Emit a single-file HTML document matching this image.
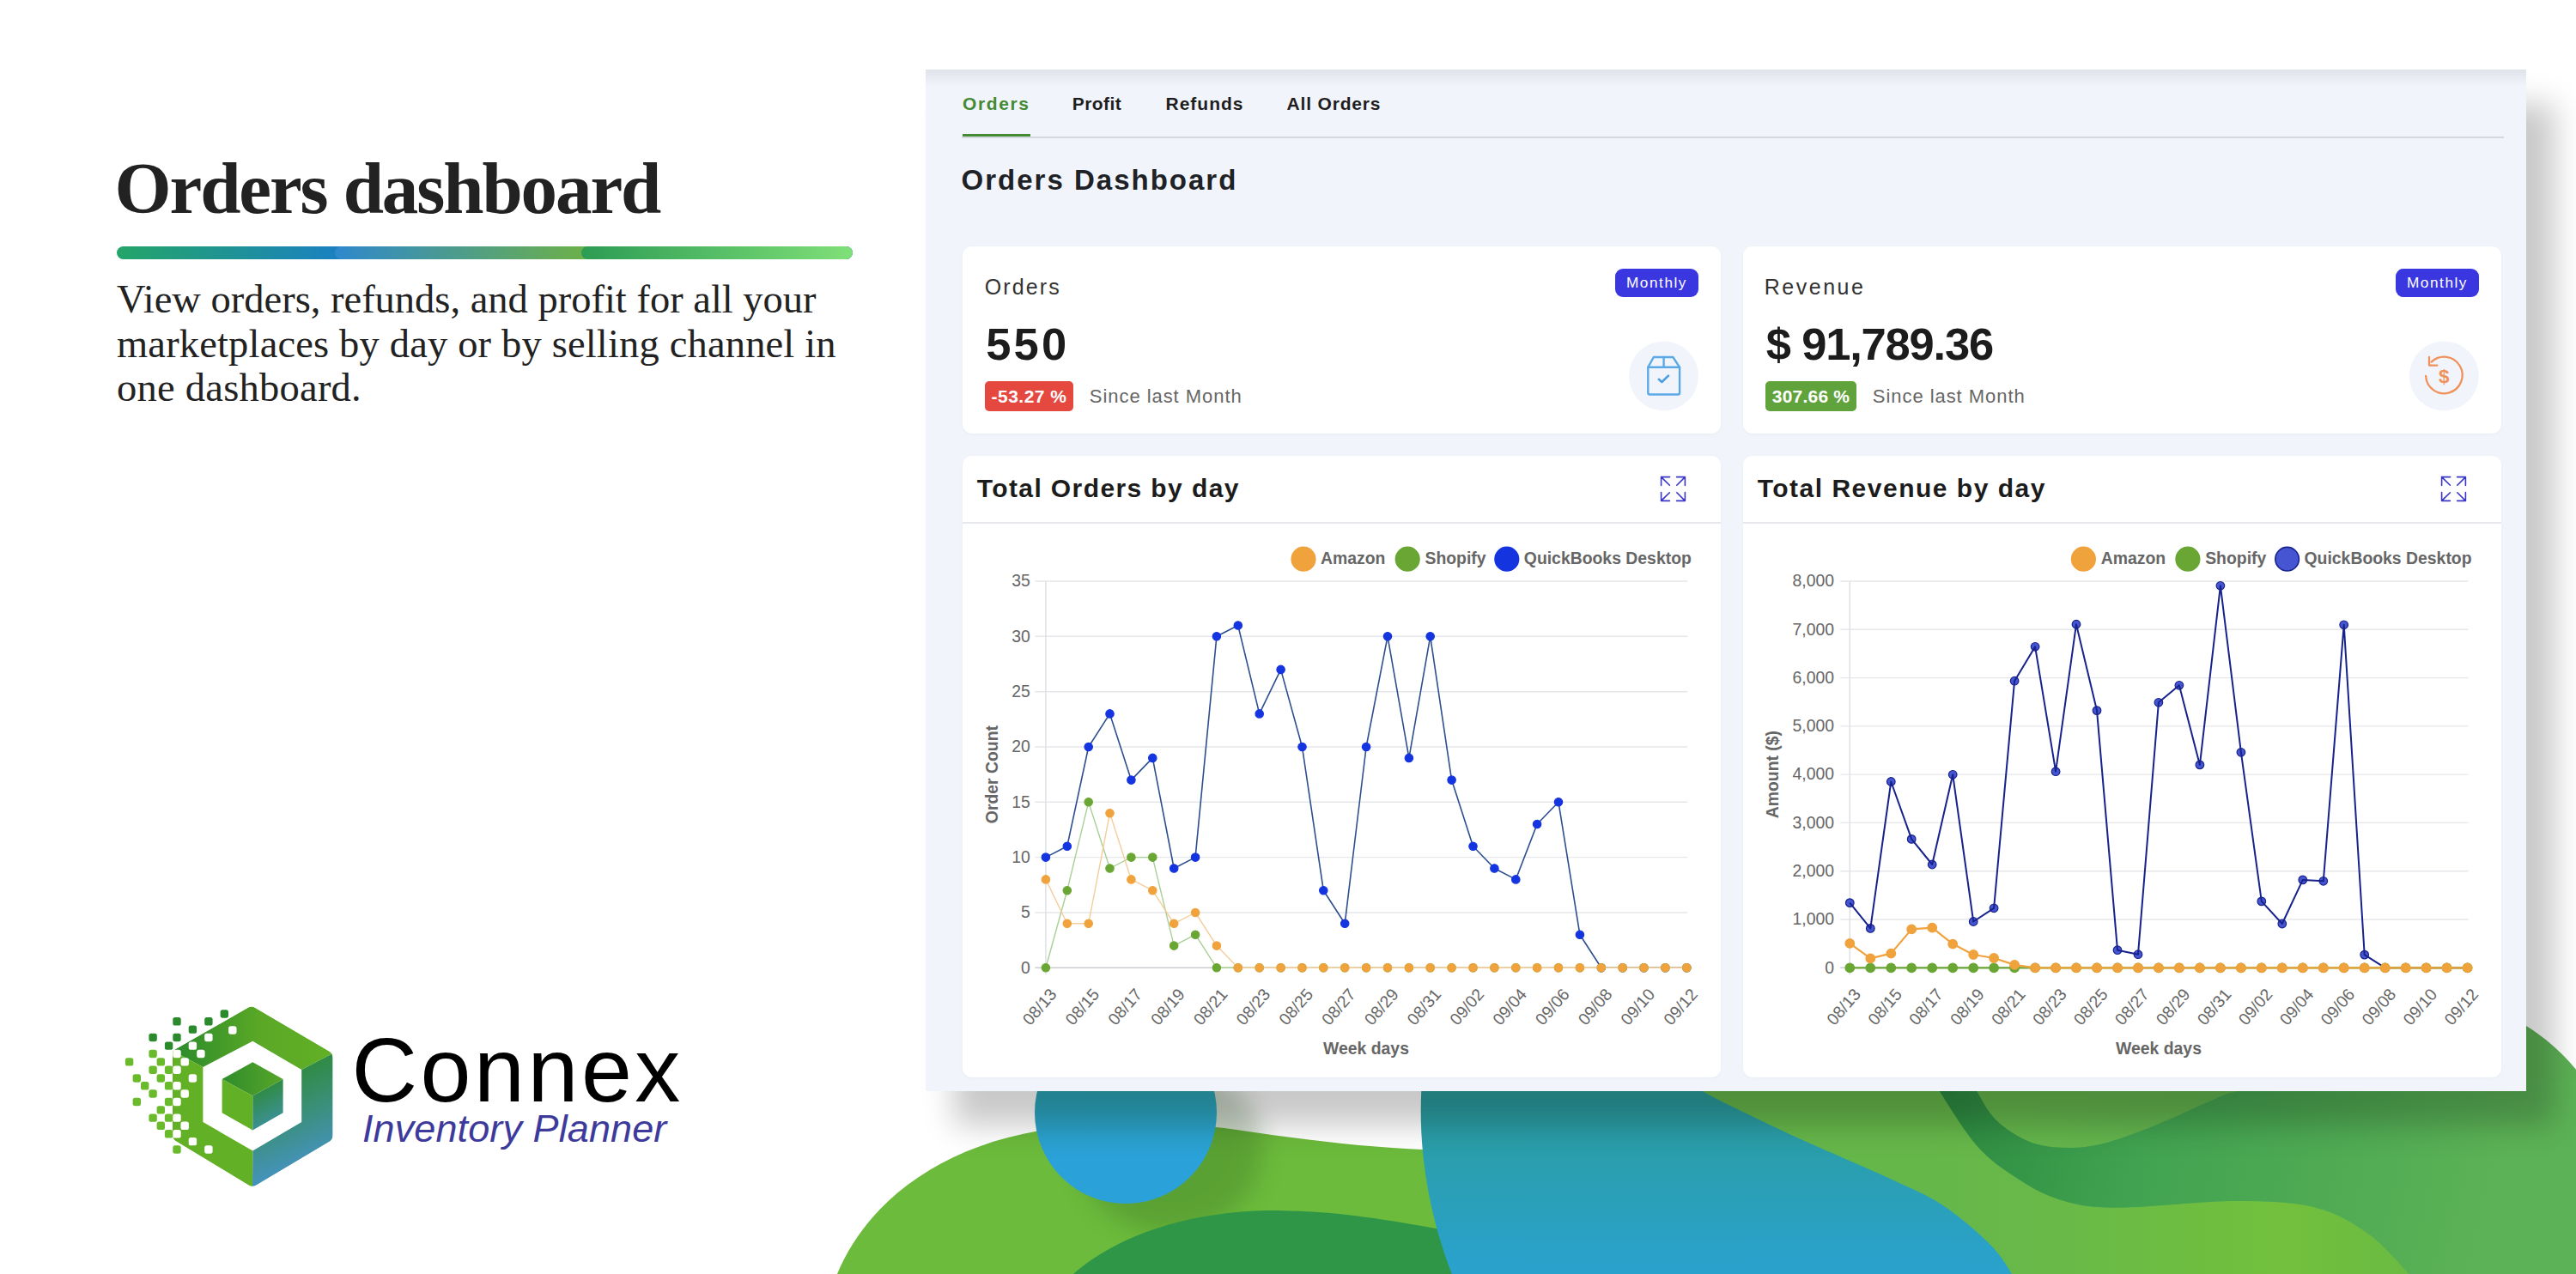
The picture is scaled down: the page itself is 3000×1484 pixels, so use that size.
<!DOCTYPE html>
<html lang="en"><head><meta charset="utf-8"><title>Orders dashboard</title>
<style>
html,body{margin:0;padding:0;background:#fff;}
body{width:3000px;height:1484px;position:relative;overflow:hidden;font-family:"Liberation Sans",sans-serif;}
.abs{position:absolute;white-space:nowrap;line-height:1;}
#bg{position:absolute;left:0;top:0;width:3000px;height:1484px;}
#panel{position:absolute;left:1078px;top:81px;width:1863.5px;height:1190px;background:#f1f5fb;box-shadow:33px 40px 34px rgba(0,0,0,0.215);}
#panel:before{content:"";position:absolute;left:0;top:0;right:0;height:19px;background:linear-gradient(#dfe3e9,#f1f5fb);}
.card{position:absolute;background:#fff;border-radius:11px;box-shadow:0 1px 3px rgba(60,80,120,0.06);}
.pp{font-family:"Liberation Sans",sans-serif;}
.serif{font-family:"Liberation Serif",serif;}
.badge{position:absolute;border-radius:5px;color:#fff;font-weight:bold;font-size:21px;text-align:center;white-space:nowrap;}
.mon{position:absolute;border-radius:9px;background:#3a36e0;color:#fff;font-size:17.2px;letter-spacing:1.55px;text-align:center;width:97px;height:33px;line-height:33px;}
svg text{font-family:"Liberation Sans",sans-serif;}
</style></head><body>
<svg id="bg" viewBox="0 0 3000 1484">

<defs>
<linearGradient id="gTeal" x1="0" y1="0" x2="0" y2="1"><stop offset="0" stop-color="#2a9c98"/><stop offset="1" stop-color="#2aa2d0"/></linearGradient>
<linearGradient id="gCirc" gradientUnits="userSpaceOnUse" x1="0" y1="1270" x2="0" y2="1345"><stop offset="0" stop-color="#2ca6b4"/><stop offset="1" stop-color="#2aa1d8"/></linearGradient>
<linearGradient id="gRight" gradientUnits="userSpaceOnUse" x1="2100" y1="0" x2="3000" y2="0"><stop offset="0" stop-color="#68b848"/><stop offset="1" stop-color="#5cb055"/></linearGradient>
<linearGradient id="gBand" gradientUnits="userSpaceOnUse" x1="2260" y1="1270" x2="2900" y2="1420"><stop offset="0" stop-color="#2c8a40"/><stop offset="0.35" stop-color="#40a250"/><stop offset="1" stop-color="#5cb256"/></linearGradient>
<linearGradient id="gBand2" gradientUnits="userSpaceOnUse" x1="2300" y1="1280" x2="2700" y2="1300"><stop offset="0" stop-color="#4a9a40"/><stop offset="1" stop-color="#5fb350"/></linearGradient>
<linearGradient id="gLime" gradientUnits="userSpaceOnUse" x1="2250" y1="0" x2="2820" y2="0"><stop offset="0" stop-color="#66b74a"/><stop offset="0.25" stop-color="#68b948"/><stop offset="0.72" stop-color="#72c03c"/><stop offset="1" stop-color="#6aba44"/></linearGradient>
<radialGradient id="gCircSh" gradientUnits="userSpaceOnUse" cx="1345" cy="1330" r="150"><stop offset="0.6" stop-color="#000" stop-opacity="0.22"/><stop offset="1" stop-color="#000" stop-opacity="0"/></radialGradient>
<filter id="blur12" x="-20%" y="-20%" width="140%" height="140%"><feGaussianBlur stdDeviation="14"/></filter>
</defs>
<!-- light green big blob (left) -->
<path d="M975,1484 C1010,1400 1100,1325 1250,1312 C1330,1306 1400,1310 1440,1316 C1520,1328 1600,1338 1680,1340 L1720,1484 Z" fill="#6cbb3c"/>
<!-- circle shadow -->
<ellipse cx="1362" cy="1338" rx="108" ry="98" fill="#2c5a1c" opacity="0.26" filter="url(#blur12)"/>
<!-- dark green lower blob -->
<path d="M1250,1484 C1300,1440 1380,1412 1476,1410 C1560,1410 1620,1422 1700,1436 L1720,1484 Z" fill="#2f9648"/>
<!-- right base green -->
<path d="M1960,1260 L2930,1260 L2930,1189 C2950,1197 2981,1222 3001,1247 L3000,1484 L2300,1484 Z" fill="url(#gRight)"/>
<!-- lime lower area (under band) -->
<path d="M2252.0,1258.0 C2253.2,1260.3 2250.6,1258.8 2259.0,1271.6 C2267.4,1284.4 2287.5,1318.2 2302.5,1335.0 C2317.5,1351.8 2332.9,1362.1 2349.0,1372.5 C2365.1,1382.9 2379.6,1391.7 2398.8,1397.4 C2418.0,1403.1 2429.8,1406.4 2464.0,1406.7 C2498.2,1407.0 2564.9,1399.0 2603.7,1399.0 C2642.5,1399.0 2671.1,1400.2 2697.0,1406.7 C2722.9,1413.2 2740.9,1424.9 2759.0,1437.8 C2777.1,1450.7 2796.8,1475.0 2805.6,1484.0 C2814.4,1493.0 2810.9,1490.7 2812.0,1492.0 L1900,1492 L1900,1258 Z" fill="url(#gLime)"/>
<!-- dark band -->
<path d="M2252.0,1258.0 C2253.2,1260.3 2250.6,1258.8 2259.0,1271.6 C2267.4,1284.4 2287.5,1318.2 2302.5,1335.0 C2317.5,1351.8 2332.9,1362.1 2349.0,1372.5 C2365.1,1382.9 2379.6,1391.7 2398.8,1397.4 C2418.0,1403.1 2429.8,1406.4 2464.0,1406.7 C2498.2,1407.0 2564.9,1399.0 2603.7,1399.0 C2642.5,1399.0 2671.1,1400.2 2697.0,1406.7 C2722.9,1413.2 2740.9,1424.9 2759.0,1437.8 C2777.1,1450.7 2796.8,1475.0 2805.6,1484.0 C2814.4,1493.0 2810.9,1490.7 2812.0,1492.0 L3000,1492 L3000,1258 L2625.0,1258.0 C2621.4,1260.3 2609.9,1268.5 2603.7,1271.6 C2597.5,1274.6 2603.5,1269.8 2588.0,1276.3 C2572.5,1282.8 2533.9,1301.1 2510.6,1310.4 C2487.3,1319.7 2466.5,1327.8 2448.4,1332.2 C2430.3,1336.6 2416.4,1337.3 2401.9,1336.8 C2387.4,1336.3 2374.5,1334.5 2361.5,1329.0 C2348.5,1323.5 2333.8,1313.6 2324.0,1304.0 C2314.2,1294.4 2307.2,1279.3 2302.5,1271.6 C2297.8,1263.9 2297.1,1260.3 2296.0,1258.0 Z" fill="url(#gBand)"/>
<!-- teal big shape -->
<path d="M1656,1258 C1650,1340 1665,1420 1694,1492 L2346.0,1492.0 C2345.5,1490.7 2347.7,1491.0 2343.0,1484.0 C2338.3,1477.0 2331.5,1463.4 2318.0,1450.0 C2304.5,1436.6 2281.7,1416.5 2262.0,1403.6 C2242.3,1390.7 2226.2,1384.7 2200.0,1372.5 C2173.8,1360.3 2131.7,1342.7 2105.0,1330.6 C2078.3,1318.5 2060.7,1310.1 2040.0,1300.0 C2019.3,1289.9 1991.8,1277.0 1981.0,1270.0 C1970.2,1263.0 1976.0,1260.0 1975.0,1258.0 Z" fill="url(#gTeal)"/>
<!-- blue circle -->
<circle cx="1311" cy="1296" r="106" fill="url(#gCirc)"/>


<defs>
<linearGradient id="lgTop" gradientUnits="userSpaceOnUse" x1="201" y1="1224" x2="387" y2="1224"><stop offset="0" stop-color="#2a8a2c"/><stop offset="0.55" stop-color="#5aa826"/><stop offset="1" stop-color="#62b025"/></linearGradient>
<linearGradient id="lgRight" gradientUnits="userSpaceOnUse" x1="330" y1="1240" x2="380" y2="1350"><stop offset="0" stop-color="#2d8a36"/><stop offset="0.5" stop-color="#3a8f78"/><stop offset="1" stop-color="#4693c4"/></linearGradient>
<linearGradient id="lgCT" gradientUnits="userSpaceOnUse" x1="258" y1="1257" x2="330" y2="1257"><stop offset="0" stop-color="#2e8c2c"/><stop offset="1" stop-color="#58a628"/></linearGradient>
<linearGradient id="lgCR" gradientUnits="userSpaceOnUse" x1="300" y1="1265" x2="325" y2="1312"><stop offset="0" stop-color="#2d8a36"/><stop offset="1" stop-color="#3f92a8"/></linearGradient>
<clipPath id="hexclip"><path d="M288.2,1174.1 Q293.0,1171.4 297.7,1174.2 L382.9,1224.3 Q387.6,1227.1 387.6,1232.6 L387.6,1321.9 Q387.6,1327.4 382.9,1330.2 L298.7,1380.4 Q294.0,1383.2 289.3,1380.4 L205.3,1329.6 Q201.0,1327.0 201.0,1322.0 L201.0,1224.0 Q201.0,1224.0 201.0,1224.0 Z"/></clipPath>
</defs>
<g clip-path="url(#hexclip)">
<polygon points="201.0,1224.0 293.0,1171.4 387.6,1227.1 351.2,1246.0 294.3,1212.8 236.4,1243.0" fill="url(#lgTop)" />
<polygon points="387.6,1227.1 387.6,1327.4 294.0,1383.2 294.3,1340.4 351.2,1307.0 351.2,1246.0" fill="url(#lgRight)" />
<polygon points="201.0,1224.0 236.4,1243.0 236.4,1307.0 294.3,1340.4 294.0,1383.2 201.0,1327.0" fill="#62b025" />
</g>
<polygon points="294.3,1237.3 329.6,1257.0 294.3,1276.6 258.6,1257.0" fill="url(#lgCT)" />
<polygon points="258.6,1257.0 294.3,1276.6 294.3,1316.4 258.6,1296.2" fill="#62b025" />
<polygon points="329.6,1257.0 329.6,1296.2 294.3,1316.4 294.3,1276.6" fill="url(#lgCR)" />
<g fill="#2a8a2c"><rect x="256.6" y="1176.3" width="9.4" height="9.4" rx="2.6"/><rect x="201.3" y="1185.1" width="9.4" height="9.4" rx="2.6"/><rect x="238.2" y="1185.1" width="9.4" height="9.4" rx="2.6"/><rect x="219.7" y="1194.4" width="9.4" height="9.4" rx="2.6"/><rect x="173.4" y="1203.8" width="9.4" height="9.4" rx="2.6"/><rect x="201.3" y="1203.8" width="9.4" height="9.4" rx="2.6"/><rect x="191.9" y="1213.4" width="9.4" height="9.4" rx="2.6"/></g>
<g fill="#6abb2c"><rect x="145.9" y="1232.2" width="9.4" height="9.4" rx="2.6"/><rect x="173.4" y="1222.8" width="9.4" height="9.4" rx="2.6"/><rect x="182.6" y="1232.2" width="9.4" height="9.4" rx="2.6"/><rect x="173.4" y="1241.5" width="9.4" height="9.4" rx="2.6"/><rect x="191.9" y="1241.5" width="9.4" height="9.4" rx="2.6"/><rect x="154.6" y="1251.3" width="9.4" height="9.4" rx="2.6"/><rect x="182.6" y="1251.3" width="9.4" height="9.4" rx="2.6"/><rect x="164.0" y="1260.1" width="9.4" height="9.4" rx="2.6"/><rect x="191.9" y="1260.1" width="9.4" height="9.4" rx="2.6"/><rect x="173.4" y="1269.3" width="9.4" height="9.4" rx="2.6"/><rect x="154.6" y="1278.8" width="9.4" height="9.4" rx="2.6"/><rect x="191.9" y="1278.8" width="9.4" height="9.4" rx="2.6"/><rect x="182.6" y="1288.2" width="9.4" height="9.4" rx="2.6"/><rect x="173.4" y="1297.4" width="9.4" height="9.4" rx="2.6"/><rect x="191.9" y="1297.4" width="9.4" height="9.4" rx="2.6"/><rect x="182.6" y="1306.6" width="9.4" height="9.4" rx="2.6"/><rect x="191.9" y="1316.1" width="9.4" height="9.4" rx="2.6"/><rect x="201.3" y="1334.3" width="9.4" height="9.4" rx="2.6"/></g>
<g fill="#ffffff"><rect x="266.1" y="1195.3" width="9.4" height="9.4" rx="2.6"/><rect x="238.2" y="1203.8" width="9.4" height="9.4" rx="2.6"/><rect x="219.7" y="1213.4" width="9.4" height="9.4" rx="2.6"/><rect x="229.2" y="1222.8" width="9.4" height="9.4" rx="2.6"/><rect x="201.3" y="1222.8" width="9.4" height="9.4" rx="2.6"/><rect x="210.5" y="1232.2" width="9.4" height="9.4" rx="2.6"/><rect x="201.3" y="1241.5" width="9.4" height="9.4" rx="2.6"/><rect x="219.7" y="1251.3" width="9.4" height="9.4" rx="2.6"/><rect x="201.3" y="1260.1" width="9.4" height="9.4" rx="2.6"/><rect x="210.5" y="1269.3" width="9.4" height="9.4" rx="2.6"/><rect x="201.3" y="1278.8" width="9.4" height="9.4" rx="2.6"/><rect x="201.3" y="1297.4" width="9.4" height="9.4" rx="2.6"/><rect x="210.5" y="1306.6" width="9.4" height="9.4" rx="2.6"/><rect x="201.3" y="1316.1" width="9.4" height="9.4" rx="2.6"/><rect x="219.7" y="1324.9" width="9.4" height="9.4" rx="2.6"/><rect x="238.2" y="1334.3" width="9.4" height="9.4" rx="2.6"/></g>

</svg>

<!-- left column -->
<div class="abs serif" id="title" style="left:133.5px;top:163.5px;font-size:85px;font-weight:bold;color:#222;letter-spacing:-2.1px;line-height:110px;">Orders dashboard</div>
<div id="bar" style="position:absolute;left:136px;top:287px;width:857px;height:15px;border-radius:8px;background:linear-gradient(90deg,#24a568 0,#1a80c2 262px);overflow:hidden;">
  <div style="position:absolute;left:254px;top:0;width:603px;height:15px;border-radius:8px;background:linear-gradient(90deg,#2e88cc,#6cb04a 48%,#6cb04a);"></div>
  <div style="position:absolute;left:541px;top:0;width:316px;height:15px;border-radius:8px;background:linear-gradient(90deg,#2c9c54,#80e078);"></div>
</div>
<div class="abs serif" id="para" style="left:136px;top:323px;font-size:46.5px;color:#222;line-height:51.5px;white-space:normal;width:900px;">View orders, refunds, and profit for all your<br><span style="letter-spacing:0.17px">marketplaces by day or by selling channel in</span><br><span style="letter-spacing:0.25px">one dashboard.</span></div>
<div class="abs" id="connex" style="left:409.5px;top:1189px;font-size:106px;letter-spacing:3.5px;color:#000;line-height:115px;">Connex</div>
<div class="abs" id="invp" style="left:422px;top:1291px;font-size:45px;font-style:italic;letter-spacing:0.1px;color:#3d3a9c;line-height:48px;">Inventory Planner</div>

<!-- dashboard panel -->
<div id="panel"></div>
<div class="abs pp" id="tab1" style="left:1121px;top:107.65px;font-size:21px;font-weight:bold;color:#438a33;letter-spacing:1.6px;line-height:26px;">Orders</div>
<div class="abs pp" id="tab2" style="left:1248.8px;top:107.65px;font-size:21px;font-weight:bold;color:#1e1e1e;letter-spacing:0.42px;line-height:26px;">Profit</div>
<div class="abs pp" id="tab3" style="left:1357.5px;top:107.65px;font-size:21px;font-weight:bold;color:#1e1e1e;letter-spacing:1px;line-height:26px;">Refunds</div>
<div class="abs pp" id="tab4" style="left:1498.6px;top:107.65px;font-size:21px;font-weight:bold;color:#1e1e1e;letter-spacing:0.82px;line-height:26px;">All Orders</div>
<div style="position:absolute;left:1120px;top:159px;width:1796px;height:2px;background:#d3d9df;"></div>
<div style="position:absolute;left:1121px;top:155.7px;width:79px;height:3.3px;background:#448c33;"></div>
<div class="abs pp" id="h1" style="left:1119.6px;top:189.6px;font-size:33px;font-weight:bold;color:#1e2126;letter-spacing:2px;line-height:40px;">Orders Dashboard</div>

<!-- stat cards -->
<div class="card" style="left:1121px;top:287px;width:883px;height:218px;"></div>
<div class="card" style="left:2030px;top:287px;width:883px;height:218px;"></div>
<div class="abs pp" id="lab1" style="left:1146.8px;top:318.5px;font-size:25px;color:#333;letter-spacing:2.1px;line-height:30px;">Orders</div>
<div class="abs pp" id="lab2" style="left:2054.8px;top:318.5px;font-size:25px;color:#333;letter-spacing:2.5px;line-height:30px;">Revenue</div>
<div class="mon" style="left:1881px;top:313px;">Monthly</div>
<div class="mon" style="left:2790px;top:313px;">Monthly</div>
<div class="abs pp" id="v1" style="left:1148.3px;top:373px;font-size:52.5px;font-weight:bold;color:#1c1c1c;letter-spacing:3.1px;line-height:56px;">550</div>
<div class="abs pp" id="v2" style="left:2056.8px;top:373px;font-size:52.5px;font-weight:bold;color:#1c1c1c;letter-spacing:-1.2px;line-height:56px;">$ 91,789.36</div>
<div class="badge" style="left:1147px;top:444px;width:103px;height:35px;line-height:36px;background:#e5483f;letter-spacing:0.5px;">-53.27 %</div>
<div class="badge" style="left:2056px;top:444px;width:106px;height:35px;line-height:36px;background:#60a33c;letter-spacing:0.2px;">307.66 %</div>
<div class="abs pp" id="s1" style="left:1268.8px;top:448.7px;font-size:22px;color:#666;letter-spacing:0.95px;line-height:26px;">Since last Month</div>
<div class="abs pp" id="s2" style="left:2180.8px;top:448.7px;font-size:22px;color:#666;letter-spacing:0.95px;line-height:26px;">Since last Month</div>

<!-- chart cards -->
<div class="card" style="left:1121px;top:531px;width:883px;height:724px;"></div>
<div class="card" style="left:2030px;top:531px;width:883px;height:724px;"></div>
<div style="position:absolute;left:1121px;top:608px;width:883px;height:1.5px;background:#e6e8ec;"></div>
<div style="position:absolute;left:2030px;top:608px;width:883px;height:1.5px;background:#e6e8ec;"></div>
<div class="abs pp" id="t1" style="left:1137.7px;top:551.3px;font-size:30px;font-weight:bold;color:#1c1c1c;letter-spacing:1.4px;line-height:36px;">Total Orders by day</div>
<div class="abs pp" id="t2" style="left:2046.7px;top:551.3px;font-size:30px;font-weight:bold;color:#1c1c1c;letter-spacing:1.5px;line-height:36px;">Total Revenue by day</div>

<svg id="fg" style="position:absolute;left:0;top:0;width:3000px;height:1484px;" viewBox="0 0 3000 1484">
<!-- icons -->
<circle cx="1937.5" cy="437.9" r="40.5" fill="#f1f5fb"/>
<g fill="none" stroke="#5aa9e6" stroke-width="2.4" stroke-linejoin="round" stroke-linecap="round">
<path d="M1919.3,427.8 L1925.8,416 L1948.4,416 L1956.1,427.8 L1956.1,457.5 Q1956.1,459.5 1954.1,459.5 L1921.3,459.5 Q1919.3,459.5 1919.3,457.5 Z"/>
<path d="M1919.3,427.8 L1956.1,427.8 M1937.6,416 L1937.6,427.8"/>
<path d="M1931.8,441.8 L1935.4,445 L1943,437.6" stroke="#4c9fe0" stroke-width="2.6"/>
</g>
<circle cx="2846.3" cy="437.9" r="40.5" fill="#f1f5fb"/>
<g fill="none" stroke="#f0915a" stroke-width="2.3" stroke-linecap="round" stroke-linejoin="round">
<path d="M2831.6,421.6 A21.3,21.3 0 1 1 2825.1,438"/>
<path d="M2829,416 L2829,425.6 L2838.4,425.6"/>
</g>
<text x="2846.3" y="445.8" text-anchor="middle" font-size="22.5" font-weight="bold" fill="#f0915a">$</text>
<!-- expand icons -->
<g id="exp" fill="none" stroke="#3a36c8" stroke-width="1.6" stroke-linecap="round" stroke-linejoin="round">
<path d="M1934.6,565.4 L1934.6,555.6 L1944.6,555.6 M1934.6,555.6 L1944.4,565.2 M1952.6,555.6 L1962.4,555.6 L1962.4,565.4 M1962.4,555.6 L1952.8,565.2 M1934.6,573.6 L1934.6,583.4 L1944.4,583.4 M1934.6,583.4 L1944.4,573.8 M1952.6,583.4 L1962.4,583.4 L1962.4,573.6 M1962.4,583.4 L1952.8,573.8"/>
<path transform="translate(909,0)" d="M1934.6,565.4 L1934.6,555.6 L1944.6,555.6 M1934.6,555.6 L1944.4,565.2 M1952.6,555.6 L1962.4,555.6 L1962.4,565.4 M1962.4,555.6 L1952.8,565.2 M1934.6,573.6 L1934.6,583.4 L1944.4,583.4 M1934.6,583.4 L1944.4,573.8 M1952.6,583.4 L1962.4,583.4 L1962.4,573.6 M1962.4,583.4 L1952.8,573.8"/>
</g>
<!-- orders chart -->
<line x1="1205.4" y1="1127.3" x2="1965.3" y2="1127.3" stroke="#cbcdd1" stroke-width="1.4"/>
<text x="1199.9" y="1133.6" text-anchor="end" font-size="19.4" fill="#666">0</text>
<line x1="1205.4" y1="1063.0" x2="1965.3" y2="1063.0" stroke="#e5e7ea" stroke-width="1.4"/>
<text x="1199.9" y="1069.3" text-anchor="end" font-size="19.4" fill="#666">5</text>
<line x1="1205.4" y1="998.6" x2="1965.3" y2="998.6" stroke="#e5e7ea" stroke-width="1.4"/>
<text x="1199.9" y="1004.9" text-anchor="end" font-size="19.4" fill="#666">10</text>
<line x1="1205.4" y1="934.3" x2="1965.3" y2="934.3" stroke="#e5e7ea" stroke-width="1.4"/>
<text x="1199.9" y="940.6" text-anchor="end" font-size="19.4" fill="#666">15</text>
<line x1="1205.4" y1="870.0" x2="1965.3" y2="870.0" stroke="#e5e7ea" stroke-width="1.4"/>
<text x="1199.9" y="876.3" text-anchor="end" font-size="19.4" fill="#666">20</text>
<line x1="1205.4" y1="805.7" x2="1965.3" y2="805.7" stroke="#e5e7ea" stroke-width="1.4"/>
<text x="1199.9" y="811.9" text-anchor="end" font-size="19.4" fill="#666">25</text>
<line x1="1205.4" y1="741.3" x2="1965.3" y2="741.3" stroke="#e5e7ea" stroke-width="1.4"/>
<text x="1199.9" y="747.6" text-anchor="end" font-size="19.4" fill="#666">30</text>
<line x1="1205.4" y1="677.0" x2="1965.3" y2="677.0" stroke="#e5e7ea" stroke-width="1.4"/>
<text x="1199.9" y="683.3" text-anchor="end" font-size="19.4" fill="#666">35</text>
<line x1="1217.9" y1="677.0" x2="1217.9" y2="1135.3" stroke="#dcdee3" stroke-width="1.4"/>
<text transform="translate(1226.4,1154.3) rotate(-49)" text-anchor="end" y="6.9" font-size="19.4" fill="#666">08/13</text>
<text transform="translate(1276.2,1154.3) rotate(-49)" text-anchor="end" y="6.9" font-size="19.4" fill="#666">08/15</text>
<text transform="translate(1325.9,1154.3) rotate(-49)" text-anchor="end" y="6.9" font-size="19.4" fill="#666">08/17</text>
<text transform="translate(1375.7,1154.3) rotate(-49)" text-anchor="end" y="6.9" font-size="19.4" fill="#666">08/19</text>
<text transform="translate(1425.4,1154.3) rotate(-49)" text-anchor="end" y="6.9" font-size="19.4" fill="#666">08/21</text>
<text transform="translate(1475.2,1154.3) rotate(-49)" text-anchor="end" y="6.9" font-size="19.4" fill="#666">08/23</text>
<text transform="translate(1525.0,1154.3) rotate(-49)" text-anchor="end" y="6.9" font-size="19.4" fill="#666">08/25</text>
<text transform="translate(1574.7,1154.3) rotate(-49)" text-anchor="end" y="6.9" font-size="19.4" fill="#666">08/27</text>
<text transform="translate(1624.5,1154.3) rotate(-49)" text-anchor="end" y="6.9" font-size="19.4" fill="#666">08/29</text>
<text transform="translate(1674.2,1154.3) rotate(-49)" text-anchor="end" y="6.9" font-size="19.4" fill="#666">08/31</text>
<text transform="translate(1724.0,1154.3) rotate(-49)" text-anchor="end" y="6.9" font-size="19.4" fill="#666">09/02</text>
<text transform="translate(1773.8,1154.3) rotate(-49)" text-anchor="end" y="6.9" font-size="19.4" fill="#666">09/04</text>
<text transform="translate(1823.5,1154.3) rotate(-49)" text-anchor="end" y="6.9" font-size="19.4" fill="#666">09/06</text>
<text transform="translate(1873.3,1154.3) rotate(-49)" text-anchor="end" y="6.9" font-size="19.4" fill="#666">09/08</text>
<text transform="translate(1923.0,1154.3) rotate(-49)" text-anchor="end" y="6.9" font-size="19.4" fill="#666">09/10</text>
<text transform="translate(1972.8,1154.3) rotate(-49)" text-anchor="end" y="6.9" font-size="19.4" fill="#666">09/12</text>
<text x="1591.0" y="1227.8" text-anchor="middle" font-size="19.4" font-weight="bold" fill="#666">Week days</text>
<text transform="translate(1155.0,902.1) rotate(-90)" text-anchor="middle" y="6.9" font-size="19.4" font-weight="bold" fill="#666">Order Count</text>
<circle cx="1518.0" cy="651.2" r="13.8" fill="#f0a23c" stroke="#f0a23c" stroke-width="1.6"/>
<text x="1538.0" y="657.3" font-size="19.4" font-weight="bold" fill="#666">Amazon</text>
<circle cx="1639.2" cy="651.2" r="13.8" fill="#6aa634" stroke="#6aa634" stroke-width="1.6"/>
<text x="1659.5" y="657.3" font-size="19.4" font-weight="bold" fill="#666">Shopify</text>
<circle cx="1754.8" cy="651.2" r="13.8" fill="#1434e0" stroke="#1434e0" stroke-width="1.6"/>
<text x="1774.8" y="657.3" font-size="19.4" font-weight="bold" fill="#666">QuickBooks Desktop</text>
<polyline points="1217.9,998.6 1242.8,985.8 1267.7,870.0 1292.5,831.4 1317.4,908.6 1342.3,882.9 1367.2,1011.5 1392.1,998.6 1416.9,741.3 1441.8,728.5 1466.7,831.4 1491.6,779.9 1516.5,870.0 1541.3,1037.2 1566.2,1075.8 1591.1,870.0 1616.0,741.3 1640.9,882.9 1665.7,741.3 1690.6,908.6 1715.5,985.8 1740.4,1011.5 1765.3,1024.4 1790.1,960.0 1815.0,934.3 1839.9,1088.7 1864.8,1127.3 1889.7,1127.3 1914.5,1127.3 1939.4,1127.3 1964.3,1127.3" fill="none" stroke="#2d4f8f" stroke-width="1.6" stroke-linejoin="round"/>
<g fill="#1434e0" stroke="#1434e0" stroke-width="1.2"><circle cx="1217.9" cy="998.6" r="4.7"/><circle cx="1242.8" cy="985.8" r="4.7"/><circle cx="1267.7" cy="870.0" r="4.7"/><circle cx="1292.5" cy="831.4" r="4.7"/><circle cx="1317.4" cy="908.6" r="4.7"/><circle cx="1342.3" cy="882.9" r="4.7"/><circle cx="1367.2" cy="1011.5" r="4.7"/><circle cx="1392.1" cy="998.6" r="4.7"/><circle cx="1416.9" cy="741.3" r="4.7"/><circle cx="1441.8" cy="728.5" r="4.7"/><circle cx="1466.7" cy="831.4" r="4.7"/><circle cx="1491.6" cy="779.9" r="4.7"/><circle cx="1516.5" cy="870.0" r="4.7"/><circle cx="1541.3" cy="1037.2" r="4.7"/><circle cx="1566.2" cy="1075.8" r="4.7"/><circle cx="1591.1" cy="870.0" r="4.7"/><circle cx="1616.0" cy="741.3" r="4.7"/><circle cx="1640.9" cy="882.9" r="4.7"/><circle cx="1665.7" cy="741.3" r="4.7"/><circle cx="1690.6" cy="908.6" r="4.7"/><circle cx="1715.5" cy="985.8" r="4.7"/><circle cx="1740.4" cy="1011.5" r="4.7"/><circle cx="1765.3" cy="1024.4" r="4.7"/><circle cx="1790.1" cy="960.0" r="4.7"/><circle cx="1815.0" cy="934.3" r="4.7"/><circle cx="1839.9" cy="1088.7" r="4.7"/><circle cx="1864.8" cy="1127.3" r="4.7"/><circle cx="1889.7" cy="1127.3" r="4.7"/><circle cx="1914.5" cy="1127.3" r="4.7"/><circle cx="1939.4" cy="1127.3" r="4.7"/><circle cx="1964.3" cy="1127.3" r="4.7"/></g>
<polyline points="1217.9,1127.3 1242.8,1037.2 1267.7,934.3 1292.5,1011.5 1317.4,998.6 1342.3,998.6 1367.2,1101.6 1392.1,1088.7 1416.9,1127.3 1441.8,1127.3 1466.7,1127.3 1491.6,1127.3 1516.5,1127.3 1541.3,1127.3 1566.2,1127.3 1591.1,1127.3 1616.0,1127.3 1640.9,1127.3 1665.7,1127.3 1690.6,1127.3 1715.5,1127.3 1740.4,1127.3 1765.3,1127.3 1790.1,1127.3 1815.0,1127.3 1839.9,1127.3 1864.8,1127.3 1889.7,1127.3 1914.5,1127.3 1939.4,1127.3 1964.3,1127.3" fill="none" stroke="#a9cf95" stroke-width="1.4" stroke-linejoin="round"/>
<g fill="#6aa634" stroke="#6aa634" stroke-width="1.2"><circle cx="1217.9" cy="1127.3" r="4.7"/><circle cx="1242.8" cy="1037.2" r="4.7"/><circle cx="1267.7" cy="934.3" r="4.7"/><circle cx="1292.5" cy="1011.5" r="4.7"/><circle cx="1317.4" cy="998.6" r="4.7"/><circle cx="1342.3" cy="998.6" r="4.7"/><circle cx="1367.2" cy="1101.6" r="4.7"/><circle cx="1392.1" cy="1088.7" r="4.7"/><circle cx="1416.9" cy="1127.3" r="4.7"/><circle cx="1441.8" cy="1127.3" r="4.7"/><circle cx="1466.7" cy="1127.3" r="4.7"/><circle cx="1491.6" cy="1127.3" r="4.7"/><circle cx="1516.5" cy="1127.3" r="4.7"/><circle cx="1541.3" cy="1127.3" r="4.7"/><circle cx="1566.2" cy="1127.3" r="4.7"/><circle cx="1591.1" cy="1127.3" r="4.7"/><circle cx="1616.0" cy="1127.3" r="4.7"/><circle cx="1640.9" cy="1127.3" r="4.7"/><circle cx="1665.7" cy="1127.3" r="4.7"/><circle cx="1690.6" cy="1127.3" r="4.7"/><circle cx="1715.5" cy="1127.3" r="4.7"/><circle cx="1740.4" cy="1127.3" r="4.7"/><circle cx="1765.3" cy="1127.3" r="4.7"/><circle cx="1790.1" cy="1127.3" r="4.7"/><circle cx="1815.0" cy="1127.3" r="4.7"/><circle cx="1839.9" cy="1127.3" r="4.7"/><circle cx="1864.8" cy="1127.3" r="4.7"/><circle cx="1889.7" cy="1127.3" r="4.7"/><circle cx="1914.5" cy="1127.3" r="4.7"/><circle cx="1939.4" cy="1127.3" r="4.7"/><circle cx="1964.3" cy="1127.3" r="4.7"/></g>
<polyline points="1217.9,1024.4 1242.8,1075.8 1267.7,1075.8 1292.5,947.2 1317.4,1024.4 1342.3,1037.2 1367.2,1075.8 1392.1,1063.0 1416.9,1101.6 1441.8,1127.3 1466.7,1127.3 1491.6,1127.3 1516.5,1127.3 1541.3,1127.3 1566.2,1127.3 1591.1,1127.3 1616.0,1127.3 1640.9,1127.3 1665.7,1127.3 1690.6,1127.3 1715.5,1127.3 1740.4,1127.3 1765.3,1127.3 1790.1,1127.3 1815.0,1127.3 1839.9,1127.3 1864.8,1127.3 1889.7,1127.3 1914.5,1127.3 1939.4,1127.3 1964.3,1127.3" fill="none" stroke="#f5cd9b" stroke-width="1.4" stroke-linejoin="round"/>
<g fill="#f0a23c" stroke="#f0a23c" stroke-width="1.2"><circle cx="1217.9" cy="1024.4" r="4.7"/><circle cx="1242.8" cy="1075.8" r="4.7"/><circle cx="1267.7" cy="1075.8" r="4.7"/><circle cx="1292.5" cy="947.2" r="4.7"/><circle cx="1317.4" cy="1024.4" r="4.7"/><circle cx="1342.3" cy="1037.2" r="4.7"/><circle cx="1367.2" cy="1075.8" r="4.7"/><circle cx="1392.1" cy="1063.0" r="4.7"/><circle cx="1416.9" cy="1101.6" r="4.7"/><circle cx="1441.8" cy="1127.3" r="4.7"/><circle cx="1466.7" cy="1127.3" r="4.7"/><circle cx="1491.6" cy="1127.3" r="4.7"/><circle cx="1516.5" cy="1127.3" r="4.7"/><circle cx="1541.3" cy="1127.3" r="4.7"/><circle cx="1566.2" cy="1127.3" r="4.7"/><circle cx="1591.1" cy="1127.3" r="4.7"/><circle cx="1616.0" cy="1127.3" r="4.7"/><circle cx="1640.9" cy="1127.3" r="4.7"/><circle cx="1665.7" cy="1127.3" r="4.7"/><circle cx="1690.6" cy="1127.3" r="4.7"/><circle cx="1715.5" cy="1127.3" r="4.7"/><circle cx="1740.4" cy="1127.3" r="4.7"/><circle cx="1765.3" cy="1127.3" r="4.7"/><circle cx="1790.1" cy="1127.3" r="4.7"/><circle cx="1815.0" cy="1127.3" r="4.7"/><circle cx="1839.9" cy="1127.3" r="4.7"/><circle cx="1864.8" cy="1127.3" r="4.7"/><circle cx="1889.7" cy="1127.3" r="4.7"/><circle cx="1914.5" cy="1127.3" r="4.7"/><circle cx="1939.4" cy="1127.3" r="4.7"/><circle cx="1964.3" cy="1127.3" r="4.7"/></g>
<!-- revenue chart -->
<line x1="2143.2" y1="1127.3" x2="2874.6" y2="1127.3" stroke="#cbcdd1" stroke-width="1.4"/>
<text x="2136.0" y="1133.6" text-anchor="end" font-size="19.4" fill="#666">0</text>
<line x1="2143.2" y1="1071.0" x2="2874.6" y2="1071.0" stroke="#e5e7ea" stroke-width="1.4"/>
<text x="2136.0" y="1077.3" text-anchor="end" font-size="19.4" fill="#666">1,000</text>
<line x1="2143.2" y1="1014.7" x2="2874.6" y2="1014.7" stroke="#e5e7ea" stroke-width="1.4"/>
<text x="2136.0" y="1021.0" text-anchor="end" font-size="19.4" fill="#666">2,000</text>
<line x1="2143.2" y1="958.4" x2="2874.6" y2="958.4" stroke="#e5e7ea" stroke-width="1.4"/>
<text x="2136.0" y="964.7" text-anchor="end" font-size="19.4" fill="#666">3,000</text>
<line x1="2143.2" y1="902.1" x2="2874.6" y2="902.1" stroke="#e5e7ea" stroke-width="1.4"/>
<text x="2136.0" y="908.4" text-anchor="end" font-size="19.4" fill="#666">4,000</text>
<line x1="2143.2" y1="845.9" x2="2874.6" y2="845.9" stroke="#e5e7ea" stroke-width="1.4"/>
<text x="2136.0" y="852.1" text-anchor="end" font-size="19.4" fill="#666">5,000</text>
<line x1="2143.2" y1="789.6" x2="2874.6" y2="789.6" stroke="#e5e7ea" stroke-width="1.4"/>
<text x="2136.0" y="795.9" text-anchor="end" font-size="19.4" fill="#666">6,000</text>
<line x1="2143.2" y1="733.3" x2="2874.6" y2="733.3" stroke="#e5e7ea" stroke-width="1.4"/>
<text x="2136.0" y="739.6" text-anchor="end" font-size="19.4" fill="#666">7,000</text>
<line x1="2143.2" y1="677.0" x2="2874.6" y2="677.0" stroke="#e5e7ea" stroke-width="1.4"/>
<text x="2136.0" y="683.3" text-anchor="end" font-size="19.4" fill="#666">8,000</text>
<line x1="2154.3" y1="677.0" x2="2154.3" y2="1135.3" stroke="#dcdee3" stroke-width="1.4"/>
<text transform="translate(2162.8,1154.3) rotate(-49)" text-anchor="end" y="6.9" font-size="19.4" fill="#666">08/13</text>
<text transform="translate(2210.8,1154.3) rotate(-49)" text-anchor="end" y="6.9" font-size="19.4" fill="#666">08/15</text>
<text transform="translate(2258.7,1154.3) rotate(-49)" text-anchor="end" y="6.9" font-size="19.4" fill="#666">08/17</text>
<text transform="translate(2306.7,1154.3) rotate(-49)" text-anchor="end" y="6.9" font-size="19.4" fill="#666">08/19</text>
<text transform="translate(2354.6,1154.3) rotate(-49)" text-anchor="end" y="6.9" font-size="19.4" fill="#666">08/21</text>
<text transform="translate(2402.6,1154.3) rotate(-49)" text-anchor="end" y="6.9" font-size="19.4" fill="#666">08/23</text>
<text transform="translate(2450.5,1154.3) rotate(-49)" text-anchor="end" y="6.9" font-size="19.4" fill="#666">08/25</text>
<text transform="translate(2498.5,1154.3) rotate(-49)" text-anchor="end" y="6.9" font-size="19.4" fill="#666">08/27</text>
<text transform="translate(2546.4,1154.3) rotate(-49)" text-anchor="end" y="6.9" font-size="19.4" fill="#666">08/29</text>
<text transform="translate(2594.4,1154.3) rotate(-49)" text-anchor="end" y="6.9" font-size="19.4" fill="#666">08/31</text>
<text transform="translate(2642.3,1154.3) rotate(-49)" text-anchor="end" y="6.9" font-size="19.4" fill="#666">09/02</text>
<text transform="translate(2690.3,1154.3) rotate(-49)" text-anchor="end" y="6.9" font-size="19.4" fill="#666">09/04</text>
<text transform="translate(2738.2,1154.3) rotate(-49)" text-anchor="end" y="6.9" font-size="19.4" fill="#666">09/06</text>
<text transform="translate(2786.2,1154.3) rotate(-49)" text-anchor="end" y="6.9" font-size="19.4" fill="#666">09/08</text>
<text transform="translate(2834.1,1154.3) rotate(-49)" text-anchor="end" y="6.9" font-size="19.4" fill="#666">09/10</text>
<text transform="translate(2882.1,1154.3) rotate(-49)" text-anchor="end" y="6.9" font-size="19.4" fill="#666">09/12</text>
<text x="2514.0" y="1227.8" text-anchor="middle" font-size="19.4" font-weight="bold" fill="#666">Week days</text>
<text transform="translate(2064.0,902.1) rotate(-90)" text-anchor="middle" y="6.9" font-size="19.4" font-weight="bold" fill="#666">Amount ($)</text>
<circle cx="2426.4" cy="651.2" r="13.8" fill="#f0a23c" stroke="#f0a23c" stroke-width="1.6"/>
<text x="2446.8" y="657.3" font-size="19.4" font-weight="bold" fill="#666">Amazon</text>
<circle cx="2547.9" cy="651.2" r="13.8" fill="#6aa634" stroke="#6aa634" stroke-width="1.6"/>
<text x="2568.2" y="657.3" font-size="19.4" font-weight="bold" fill="#666">Shopify</text>
<circle cx="2663.6" cy="651.2" r="13.8" fill="#4656d2" stroke="#18228c" stroke-width="1.6"/>
<text x="2683.5" y="657.3" font-size="19.4" font-weight="bold" fill="#666">QuickBooks Desktop</text>
<g fill="#4656d2" stroke="#18228c" stroke-width="1.2"><circle cx="2154.3" cy="1051.6" r="4.8"/><circle cx="2178.3" cy="1081.4" r="4.8"/><circle cx="2202.3" cy="910.5" r="4.8"/><circle cx="2226.2" cy="977.4" r="4.8"/><circle cx="2250.2" cy="1007.0" r="4.8"/><circle cx="2274.2" cy="902.3" r="4.8"/><circle cx="2298.2" cy="1073.5" r="4.8"/><circle cx="2322.1" cy="1057.8" r="4.8"/><circle cx="2346.1" cy="793.2" r="4.8"/><circle cx="2370.1" cy="753.3" r="4.8"/><circle cx="2394.1" cy="898.7" r="4.8"/><circle cx="2418.0" cy="727.2" r="4.8"/><circle cx="2442.0" cy="827.6" r="4.8"/><circle cx="2466.0" cy="1106.7" r="4.8"/><circle cx="2490.0" cy="1111.7" r="4.8"/><circle cx="2513.9" cy="818.3" r="4.8"/><circle cx="2537.9" cy="798.3" r="4.8"/><circle cx="2561.9" cy="890.9" r="4.8"/><circle cx="2585.9" cy="682.3" r="4.8"/><circle cx="2609.9" cy="876.3" r="4.8"/><circle cx="2633.8" cy="1049.9" r="4.8"/><circle cx="2657.8" cy="1076.0" r="4.8"/><circle cx="2681.8" cy="1024.9" r="4.8"/><circle cx="2705.8" cy="1026.3" r="4.8"/><circle cx="2729.7" cy="727.8" r="4.8"/><circle cx="2753.7" cy="1112.1" r="4.8"/><circle cx="2777.7" cy="1127.3" r="4.8"/><circle cx="2801.7" cy="1127.3" r="4.8"/><circle cx="2825.6" cy="1127.3" r="4.8"/><circle cx="2849.6" cy="1127.3" r="4.8"/><circle cx="2873.6" cy="1127.3" r="4.8"/></g>
<polyline points="2154.3,1051.6 2178.3,1081.4 2202.3,910.5 2226.2,977.4 2250.2,1007.0 2274.2,902.3 2298.2,1073.5 2322.1,1057.8 2346.1,793.2 2370.1,753.3 2394.1,898.7 2418.0,727.2 2442.0,827.6 2466.0,1106.7 2490.0,1111.7 2513.9,818.3 2537.9,798.3 2561.9,890.9 2585.9,682.3 2609.9,876.3 2633.8,1049.9 2657.8,1076.0 2681.8,1024.9 2705.8,1026.3 2729.7,727.8 2753.7,1112.1 2777.7,1127.3 2801.7,1127.3 2825.6,1127.3 2849.6,1127.3 2873.6,1127.3" fill="none" stroke="#18228c" stroke-width="2.0" stroke-linejoin="round"/>
<polyline points="2154.3,1127.3 2178.3,1127.3 2202.3,1127.3 2226.2,1127.3 2250.2,1127.3 2274.2,1127.3 2298.2,1127.3 2322.1,1127.3 2346.1,1127.3 2370.1,1127.3 2394.1,1127.3 2418.0,1127.3 2442.0,1127.3 2466.0,1127.3 2490.0,1127.3 2513.9,1127.3 2537.9,1127.3 2561.9,1127.3 2585.9,1127.3 2609.9,1127.3 2633.8,1127.3 2657.8,1127.3 2681.8,1127.3 2705.8,1127.3 2729.7,1127.3 2753.7,1127.3 2777.7,1127.3 2801.7,1127.3 2825.6,1127.3 2849.6,1127.3 2873.6,1127.3" fill="none" stroke="#6aa634" stroke-width="2.2" stroke-linejoin="round"/>
<g fill="#6aa634" stroke="#6aa634" stroke-width="1.2"><circle cx="2154.3" cy="1127.3" r="5.3"/><circle cx="2178.3" cy="1127.3" r="5.3"/><circle cx="2202.3" cy="1127.3" r="5.3"/><circle cx="2226.2" cy="1127.3" r="5.3"/><circle cx="2250.2" cy="1127.3" r="5.3"/><circle cx="2274.2" cy="1127.3" r="5.3"/><circle cx="2298.2" cy="1127.3" r="5.3"/><circle cx="2322.1" cy="1127.3" r="5.3"/><circle cx="2346.1" cy="1127.3" r="5.3"/><circle cx="2370.1" cy="1127.3" r="5.3"/><circle cx="2394.1" cy="1127.3" r="5.3"/><circle cx="2418.0" cy="1127.3" r="5.3"/><circle cx="2442.0" cy="1127.3" r="5.3"/><circle cx="2466.0" cy="1127.3" r="5.3"/><circle cx="2490.0" cy="1127.3" r="5.3"/><circle cx="2513.9" cy="1127.3" r="5.3"/><circle cx="2537.9" cy="1127.3" r="5.3"/><circle cx="2561.9" cy="1127.3" r="5.3"/><circle cx="2585.9" cy="1127.3" r="5.3"/><circle cx="2609.9" cy="1127.3" r="5.3"/><circle cx="2633.8" cy="1127.3" r="5.3"/><circle cx="2657.8" cy="1127.3" r="5.3"/><circle cx="2681.8" cy="1127.3" r="5.3"/><circle cx="2705.8" cy="1127.3" r="5.3"/><circle cx="2729.7" cy="1127.3" r="5.3"/><circle cx="2753.7" cy="1127.3" r="5.3"/><circle cx="2777.7" cy="1127.3" r="5.3"/><circle cx="2801.7" cy="1127.3" r="5.3"/><circle cx="2825.6" cy="1127.3" r="5.3"/><circle cx="2849.6" cy="1127.3" r="5.3"/><circle cx="2873.6" cy="1127.3" r="5.3"/></g>
<polyline points="2154.3,1098.9 2178.3,1116.4 2202.3,1110.6 2226.2,1082.4 2250.2,1080.6 2274.2,1099.6 2298.2,1112.0 2322.1,1116.0 2346.1,1123.9 2370.1,1127.3 2394.1,1127.3 2418.0,1127.3 2442.0,1127.3 2466.0,1127.3 2490.0,1127.3 2513.9,1127.3 2537.9,1127.3 2561.9,1127.3 2585.9,1127.3 2609.9,1127.3 2633.8,1127.3 2657.8,1127.3 2681.8,1127.3 2705.8,1127.3 2729.7,1127.3 2753.7,1127.3 2777.7,1127.3 2801.7,1127.3 2825.6,1127.3 2849.6,1127.3 2873.6,1127.3" fill="none" stroke="#f0a23c" stroke-width="2.2" stroke-linejoin="round"/>
<g fill="#f0a23c" stroke="#f0a23c" stroke-width="1.2"><circle cx="2154.3" cy="1098.9" r="5.3"/><circle cx="2178.3" cy="1116.4" r="5.3"/><circle cx="2202.3" cy="1110.6" r="5.3"/><circle cx="2226.2" cy="1082.4" r="5.3"/><circle cx="2250.2" cy="1080.6" r="5.3"/><circle cx="2274.2" cy="1099.6" r="5.3"/><circle cx="2298.2" cy="1112.0" r="5.3"/><circle cx="2322.1" cy="1116.0" r="5.3"/><circle cx="2346.1" cy="1123.9" r="5.3"/><circle cx="2370.1" cy="1127.3" r="5.3"/><circle cx="2394.1" cy="1127.3" r="5.3"/><circle cx="2418.0" cy="1127.3" r="5.3"/><circle cx="2442.0" cy="1127.3" r="5.3"/><circle cx="2466.0" cy="1127.3" r="5.3"/><circle cx="2490.0" cy="1127.3" r="5.3"/><circle cx="2513.9" cy="1127.3" r="5.3"/><circle cx="2537.9" cy="1127.3" r="5.3"/><circle cx="2561.9" cy="1127.3" r="5.3"/><circle cx="2585.9" cy="1127.3" r="5.3"/><circle cx="2609.9" cy="1127.3" r="5.3"/><circle cx="2633.8" cy="1127.3" r="5.3"/><circle cx="2657.8" cy="1127.3" r="5.3"/><circle cx="2681.8" cy="1127.3" r="5.3"/><circle cx="2705.8" cy="1127.3" r="5.3"/><circle cx="2729.7" cy="1127.3" r="5.3"/><circle cx="2753.7" cy="1127.3" r="5.3"/><circle cx="2777.7" cy="1127.3" r="5.3"/><circle cx="2801.7" cy="1127.3" r="5.3"/><circle cx="2825.6" cy="1127.3" r="5.3"/><circle cx="2849.6" cy="1127.3" r="5.3"/><circle cx="2873.6" cy="1127.3" r="5.3"/></g>
</svg>
</body></html>
